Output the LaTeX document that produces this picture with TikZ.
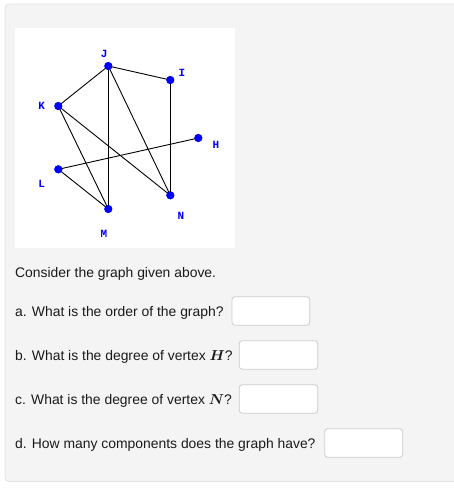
\documentclass[tikz,border=0pt]{standalone}
\usepackage{amsmath}
\usepackage{fontspec}
\setmainfont{Liberation Sans}
\newfontfamily\lblfont{Liberation Mono}
\begin{document}
\begin{tikzpicture}[x=1pt,y=-1pt,
  vtx/.style={circle,fill=vblue,inner sep=0pt,minimum size=8pt},
  vlbl/.style={text=vblue,font=\lblfont\bfseries\fontsize{11}{11}\selectfont,inner sep=0pt},
  edge/.style={draw=black,line width=0.9pt},
  qtext/.style={anchor=base west,inner sep=0pt,text=qgray,font=\fontsize{13.9}{16}\selectfont},
  ansbox/.style={draw=boxgray,fill=white,rounded corners=3pt,line width=0.8pt}]
\definecolor{vblue}{HTML}{0000FF}
\definecolor{qgray}{HTML}{1A1A1A}
\definecolor{boxgray}{HTML}{CCCCCC}
\definecolor{panel}{HTML}{F4F4F4}
\definecolor{panelborder}{HTML}{E2E2E2}
\useasboundingbox (0,0) rectangle (454,488);
\fill[white] (0,0) rectangle (454,488);
\draw[fill=panel,draw=panelborder,rounded corners=4pt,line width=0.8pt] (5,4) rectangle (458,481.5);
\fill[white] (15,28) rectangle (235,248);
% vertices
\node[vtx] (J) at (108.3,66) {};
\node[vtx] (I) at (170.3,80) {};
\node[vtx] (K) at (58.3,106) {};
\node[vtx] (H) at (198.3,138) {};
\node[vtx] (L) at (58.3,169.3) {};
\node[vtx] (N) at (170.3,195.3) {};
\node[vtx] (M) at (108.3,209) {};
% edges
\draw[edge] (J.center) -- (I.center);
\draw[edge] (J.center) -- (K.center);
\draw[edge] (J.center) -- (M.center);
\draw[edge] (J.center) -- (N.center);
\draw[edge] (I.center) -- (N.center);
\draw[edge] (K.center) -- (N.center);
\draw[edge] (K.center) -- (M.center);
\draw[edge] (L.center) -- (H.center);
\draw[edge] (L.center) -- (M.center);
% redraw dots on top
\foreach \v in {J,I,K,H,L,N,M} \fill[vblue] (\v.center) circle (4pt);
% labels
\node[vlbl] (lJ) at (104.3,54.3) {J};
\node[vlbl] (lI) at (182,72.7) {I};
\node[vlbl] (lK) at (41.7,105.7) {K};
\node[vlbl] (lH) at (216,145.3) {H};
\node[vlbl] (lL) at (41.7,184) {L};
\node[vlbl] (lN) at (181,216) {N};
\node[vlbl] (lM) at (104,234.3) {M};
% questions
\node[qtext] (q0) at (15,277.7) {Consider the graph given above.};
\node[qtext] (qa) at (15,316) {a. What is the order of the graph?};
\node[qtext] (qb) at (15,360) {b. What is the degree of vertex $\boldsymbol{H}$?};
\node[qtext] (qc) at (15,404) {c. What is the degree of vertex $\boldsymbol{N}$?};
\node[qtext] (qd) at (15,448.3) {d. How many components does the graph have?};
% answer boxes
\draw[ansbox] (232,296.7) rectangle (309.7,325.3);
\draw[ansbox] (239.3,340.7) rectangle (317.7,369.3);
\draw[ansbox] (239.3,384.7) rectangle (317.7,413.3);
\draw[ansbox] (324.7,428.7) rectangle (402.7,457.3);
\end{tikzpicture}
\end{document}
